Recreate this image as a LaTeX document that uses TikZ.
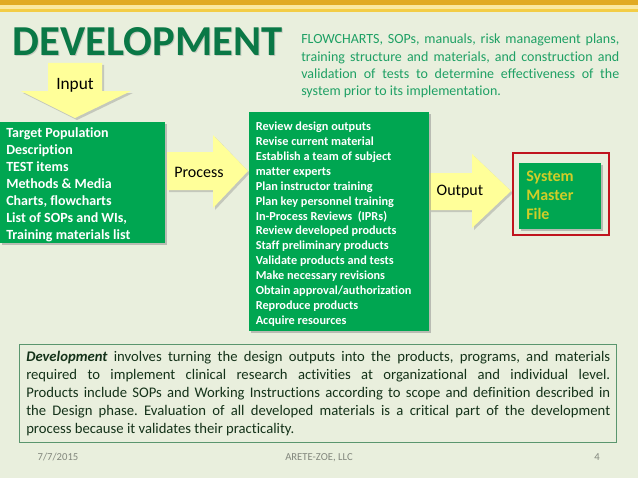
\documentclass[tikz,border=0pt]{standalone}
\usepackage{fontspec}
\setmainfont[Ligatures=CommonOff]{Carlito}
\usetikzlibrary{shadows}
\definecolor{slidebg}{RGB}{233,239,221}
\definecolor{goldbar}{RGB}{243,205,70}
\definecolor{golddark}{RGB}{225,170,35}
\definecolor{goldpale}{RGB}{250,232,160}
\definecolor{boxgreen}{RGB}{0,166,81}
\definecolor{titlegreen}{RGB}{10,120,70}
\definecolor{notegreen}{RGB}{30,160,100}
\definecolor{noteframe}{RGB}{90,150,110}
\definecolor{arrowyellow}{RGB}{255,255,153}
\definecolor{redframe}{RGB}{192,20,30}
\definecolor{notetext}{RGB}{20,50,25}
\definecolor{footgrey}{RGB}{130,135,125}
\definecolor{sysyellow}{RGB}{208,205,40}
\tikzset{
  flowbox/.style={fill=boxgreen,drop shadow={shadow xshift=1.5pt,shadow yshift=-1.5pt,opacity=.45}},
  flowarrow/.style={fill=arrowyellow,drop shadow={shadow xshift=1.5pt,shadow yshift=-1.5pt,opacity=.35}},
  flowtext/.style={inner sep=0pt,anchor=north west,align=left,text=white,font=\bfseries},
  arrowtext/.style={inner sep=0pt,font=\fontsize{12}{14}\selectfont},
  foottext/.style={inner sep=0pt,anchor=base,text=footgrey,font=\fontsize{8}{9}\selectfont}
}
\begin{document}
\frenchspacing
\begin{tikzpicture}[x=0.75pt,y=0.75pt,yscale=-1,xscale=1]
\useasboundingbox (0,0) rectangle (638,478);
\fill[slidebg] (0,0) rectangle (638,478);
%top band
\fill[goldbar] (0,0) rectangle (638,12);
\fill[golddark] (0,0) rectangle (638,5);
\fill[goldpale] (0,5) rectangle (638,9);

%title
\node[inner sep=0pt,text=black!45,opacity=.35,font=\fontsize{32}{36}\bfseries\selectfont] at (148.5,43) {DEVELOPMENT};
\node (title) [inner sep=0pt,text=titlegreen,font=\fontsize{32}{36}\bfseries\selectfont] at (147.5,42) {DEVELOPMENT};
\node (scope) [inner sep=0pt,anchor=north west,text width=238.5pt,align=justify,text=notegreen,font=\fontsize{10.5}{12.8}\selectfont] at (301,34) {FLOWCHARTS, SOPs, manuals, risk management plans,\linebreak training structure and materials, and construction and\linebreak validation of tests to determine effectiveness of the\linebreak system prior to its implementation.};

%arrows
\draw[flowarrow,draw=none] (48,63) -- (102,63) -- (102,91) -- (131,91) -- (75,118) -- (21,91) -- (48,91) -- cycle;
\node (input) [arrowtext,font=\fontsize{13}{15}\selectfont] at (75,85) {Input};
\draw[flowarrow,draw=none] (167,152) -- (213,152) -- (213,135) -- (248,171) -- (213,208) -- (213,190) -- (167,190) -- cycle;
\node (process) [arrowtext] at (199,172) {Process};
\draw[flowarrow,draw=none] (429,173) -- (472,173) -- (472,154) -- (511,191) -- (472,228) -- (472,210) -- (429,210) -- cycle;
\node (output) [arrowtext] at (460,192) {Output};

%green boxes
\fill[flowbox] (0,122) rectangle (165,243);
\node (inlist) [flowtext,font=\fontsize{10.5}{12.75}\bfseries\selectfont] at (6,127) {Target Population\\Description\\TEST items\\Methods \& Media\\Charts, flowcharts\\List of SOPs and WIs,\\Training materials list};
\fill[flowbox] (249,112) rectangle (429,331);
\node (proclist) [flowtext,font=\fontsize{9.2}{11.15}\bfseries\selectfont] at (255.5,122) {Review design outputs\\Revise current material\\Establish a team of subject\\matter experts\\Plan instructor training\\Plan key personnel training\\In-Process Reviews~ (IPRs)\\Review developed products\\Staff preliminary products\\Validate products and tests\\Make necessary revisions\\Obtain approval/authorization\\Reproduce products\\Acquire resources};

\draw[redframe,line width=1.2pt] (513,153) rectangle (609,235);
\fill[flowbox] (519,163) rectangle (601,229);
\node (master) [flowtext,text=sysyellow,font=\fontsize{12}{14.3}\bfseries\selectfont] at (526,171) {System\\Master\\File};

%note
\draw[draw=noteframe,line width=.7pt] (19.5,344) rectangle (616,442);
\node (note) [inner sep=0pt,anchor=north west,text width=438pt,align=justify,text=notetext,font=\fontsize{11}{13.5}\selectfont] at (26,351) {\textbf{\textit{Development}} involves turning the design outputs into the products, programs, and materials\linebreak required to implement clinical research activities at organizational and individual level.\linebreak Products include SOPs and Working Instructions according to scope and definition described in\linebreak the Design phase. Evaluation of all developed materials is a critical part of the development\linebreak process because it validates their practicality.};

%footer
\node (date) [foottext] at (58,460) {7/7/2015};
\node (firm) [foottext] at (319,460) {ARETE-ZOE, LLC};
\node (page) [foottext] at (597,460) {4};
\end{tikzpicture}
\end{document}
